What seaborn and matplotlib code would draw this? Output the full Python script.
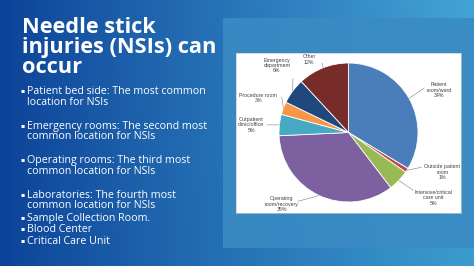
import numpy as np
import matplotlib
matplotlib.use("Agg")
import matplotlib.pyplot as plt
import matplotlib.patches as mpatches
import seaborn as sns

# ---------------- data ----------------
categories = ["Patient\nroom/ward", "Outside patient\nroom", "Intensive/critical\ncare unit",
              "Operating\nroom/recovery", "Outpatient\nclinic/office", "Procedure room",
              "Emergency\ndepartment", "Other"]
values = [34, 1, 5, 35, 5, 3, 6, 12]

title_lines = ["Needle stick", "injuries (NSIs) can", "occur"]
bullets = [
    ["Patient bed side: The most common", "location for NSIs"],
    ["Emergency rooms: The second most", "common location for NSIs"],
    ["Operating rooms: The third most", "common location for NSIs"],
    ["Laboratories: The fourth most", "common location for NSIs"],
    ["Sample Collection Room."],
    ["Blood Center"],
    ["Critical Care Unit"],
]

# ---------------- styles / layout ----------------
slice_colors = ["#4a7ebb", "#be4b48", "#98b954", "#7d60a0",
                "#46aac5", "#f79646", "#1f497d", "#772c2a"]
# label text positions (pie radius units) and leader-line end points
label_pos = [(1.30, 0.61), (1.35, -0.57), (1.22, -0.94), (-0.96, -1.03),
             (-1.40, 0.11), (-1.30, 0.50), (-1.03, 0.96), (-0.57, 1.05)]
line_end = [(1.09, 0.64), (1.05, -0.50), (0.93, -0.83), (-0.73, -0.99),
            (-1.17, 0.11), (-0.96, 0.51), (-0.80, 0.78), (-0.38, 1.00)]
bullet_blocks_y = [94, 128.5, 163, 197.5, 220.5, 232, 243.5]

sns.set_style("white")
plt.rcParams["font.family"] = ["Open Sans", "DejaVu Sans"]

W, H = 474, 266
fig = plt.figure(figsize=(W / 100, H / 100), dpi=100)

# background gradient
bg = fig.add_axes([0, 0, 1, 1], zorder=0)
xs = np.linspace(0, 1, W)[None, :, None]
ys = np.linspace(0, 1, H)[:, None, None]
c0 = np.array([12, 66, 152]) / 255
c1 = np.array([60, 156, 206]) / 255
t = xs ** 0.9
img = c0 + (c1 - c0) * t
img = img + 0.03 * (1 - ys) * xs
img = np.clip(np.broadcast_to(img, (H, W, 3)), 0, 1)
bg.imshow(img, extent=[0, W, H, 0], aspect="auto")
bg.set_xlim(0, W)
bg.set_ylim(H, 0)
bg.axis("off")

# lighter panel behind chart
bg.add_patch(mpatches.Rectangle((223, 18), W - 223, 230, facecolor="#3a8bc4",
                                edgecolor="none", alpha=0.92, zorder=2))

# title text
for i, line in enumerate(title_lines):
    bg.text(22, 33 + 20 * i, line, color="white", fontsize=15.7, fontweight="bold",
            va="baseline", ha="left", zorder=5)

# bullets
for block, y0 in zip(bullets, bullet_blocks_y):
    bg.text(20.5, y0 - 1.5, "▪", color="white", fontsize=4.5, va="baseline", ha="left",
            family=["DejaVu Sans"], zorder=5)
    for j, line in enumerate(block):
        bg.text(27.5, y0 + 10.8 * j, line, color="white", fontsize=7.7,
                va="baseline", ha="left", zorder=5)

# pie chart in white box
cx, cy, r = 348.5, 132.5, 69.5
bx0, bx1, by0, by1 = 236, 461, 53, 213
ax = fig.add_axes([bx0 / W, 1 - by1 / H, (bx1 - bx0) / W, (by1 - by0) / H], zorder=3)
wedges, _ = ax.pie(values, startangle=90, counterclock=False, colors=slice_colors,
                   radius=1, wedgeprops=dict(edgecolor="white", linewidth=0.6))
ax.set_aspect("auto")
ax.set_xlim((bx0 - cx) / r, (bx1 - cx) / r)
ax.set_ylim((cy - by1) / r, (cy - by0) / r)
ax.set_facecolor("white")
ax.set_frame_on(True)
for s in ax.spines.values():
    s.set_color("#c8c8c8")
    s.set_linewidth(0.5)

for w, cat, v, (tx, ty), (ex, ey) in zip(wedges, categories, values, label_pos, line_end):
    mid = np.deg2rad((w.theta1 + w.theta2) / 2)
    sx, sy = np.cos(mid), np.sin(mid)
    ax.plot([sx, ex], [sy, ey], color="#7f7f7f", lw=0.4, zorder=4, clip_on=False)
    ax.text(tx, ty, f"{cat}\n{v}%", ha="center", va="center", fontsize=3.8,
            color="#404040", family=["Liberation Sans", "DejaVu Sans"], linespacing=1.05)

fig.savefig("out.png", dpi=100)
